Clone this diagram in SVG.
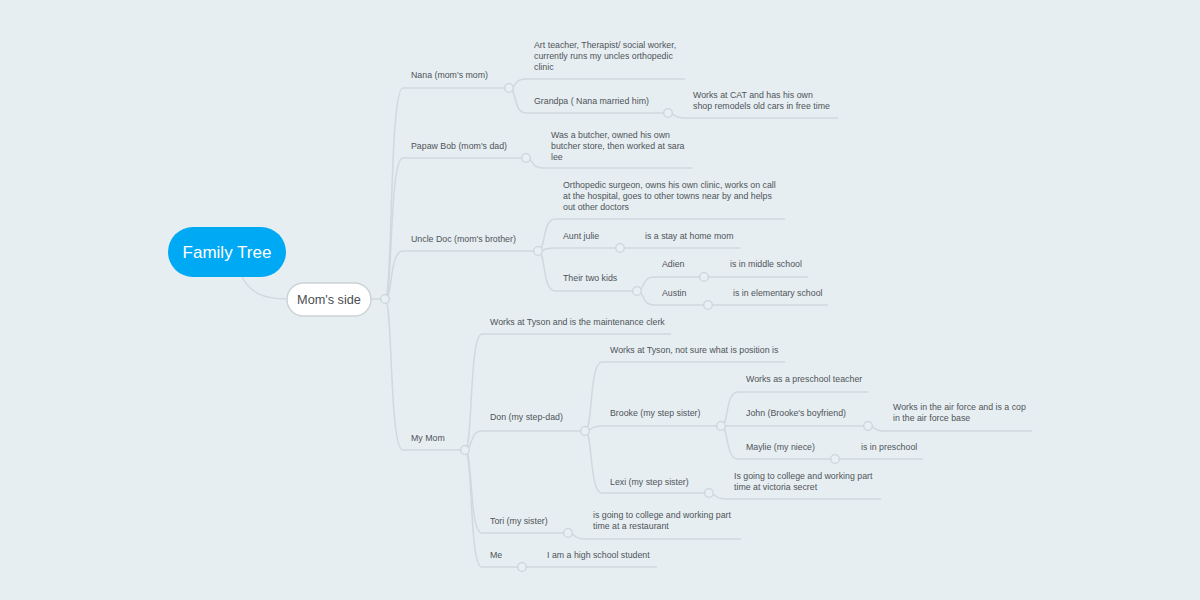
<svg xmlns="http://www.w3.org/2000/svg" width="1200" height="600" viewBox="0 0 1200 600">
<style>
.bg{fill:#e6eef2}
.ln{fill:none;stroke:#d2d9de;stroke-width:1.5}
.kn{fill:#e9f0f3;stroke:#cdd5da;stroke-width:1.3}
.t{font-family:"Liberation Sans",Arial,sans-serif;font-size:8.8px;fill:#4f5458}
.root{fill:#00a9f4}
.rt{font-family:"Liberation Sans",Arial,sans-serif;font-size:17px;fill:#ffffff}
.ms{fill:#ffffff;stroke:#ccd3d8;stroke-width:1.5}
.mt{font-family:"Liberation Sans",Arial,sans-serif;font-size:12.7px;fill:#4a4e52}
</style>
<rect class="bg" x="0" y="0" width="1200" height="600"/>
<g id="connectors">
<path class="ln" d="M242,277 C250,292 262,299 287,299"/>
<path class="ln" d="M371,299 L385,299"/>
<path class="ln" d="M385,299 C393,299 389,88 403,88 L509,88"/>
<path class="ln" d="M385,299 C393,299 389,158 403,158 L526,158"/>
<path class="ln" d="M385,299 C393,299 389,251 403,251 L538,251"/>
<path class="ln" d="M385,299 C393,299 389,450 403,450 L465,450"/>
<path class="ln" d="M509,88 C517,88 513,79 526,79 L685,79"/>
<path class="ln" d="M509,88 C517,88 513,113 526,113 L668,113"/>
<path class="ln" d="M668,113 C676,113 672,118 685,118 L838,118"/>
<path class="ln" d="M526,158 C534,158 530,168 543,168 L692,168"/>
<path class="ln" d="M538,251 C546,251 542,219 555,219 L785,219"/>
<path class="ln" d="M538,251 C546,251 542,248 555,248 L620,248"/>
<path class="ln" d="M620,248 L740,248"/>
<path class="ln" d="M538,251 C546,251 542,291 555,291 L637,291"/>
<path class="ln" d="M637,291 C645,291 641,277 654,277 L704,277"/>
<path class="ln" d="M637,291 C645,291 641,305 654,305 L708,305"/>
<path class="ln" d="M704,277 L808,277"/>
<path class="ln" d="M708,305 L828,305"/>
<path class="ln" d="M465,450 C473,450 469,334 482,334 L671,334"/>
<path class="ln" d="M465,450 C473,450 469,431 482,431 L585,431"/>
<path class="ln" d="M465,450 C473,450 469,533 482,533 L568,533"/>
<path class="ln" d="M465,450 C473,450 469,567 482,567 L522,567"/>
<path class="ln" d="M585,431 C593,431 589,362 602,362 L785,362"/>
<path class="ln" d="M585,431 C593,431 589,426 602,426 L721,426"/>
<path class="ln" d="M585,431 C593,431 589,493 602,493 L709,493"/>
<path class="ln" d="M721,426 C729,426 725,392 738,392 L868,392"/>
<path class="ln" d="M721,426 L868,426"/>
<path class="ln" d="M721,426 C729,426 725,459 738,459 L835,459"/>
<path class="ln" d="M868,426 C876,426 872,431 885,431 L1032,431"/>
<path class="ln" d="M835,459 L923,459"/>
<path class="ln" d="M709,493 C717,493 713,499 726,499 L881,499"/>
<path class="ln" d="M568,533 C576,533 572,539 585,539 L741,539"/>
<path class="ln" d="M522,567 L657,567"/>
</g>
<g id="knobs">
<circle class="kn" cx="385" cy="299" r="4.3"/>
<circle class="kn" cx="509" cy="88" r="4.3"/>
<circle class="kn" cx="668" cy="113" r="4.3"/>
<circle class="kn" cx="526" cy="158" r="4.3"/>
<circle class="kn" cx="538" cy="251" r="4.3"/>
<circle class="kn" cx="620" cy="248" r="4.3"/>
<circle class="kn" cx="637" cy="291" r="4.3"/>
<circle class="kn" cx="704" cy="277" r="4.3"/>
<circle class="kn" cx="708" cy="305" r="4.3"/>
<circle class="kn" cx="465" cy="450" r="4.3"/>
<circle class="kn" cx="585" cy="431" r="4.3"/>
<circle class="kn" cx="721" cy="426" r="4.3"/>
<circle class="kn" cx="868" cy="426" r="4.3"/>
<circle class="kn" cx="835" cy="459" r="4.3"/>
<circle class="kn" cx="709" cy="493" r="4.3"/>
<circle class="kn" cx="568" cy="533" r="4.3"/>
<circle class="kn" cx="522" cy="567" r="4.3"/>
</g>
<g id="root"><rect class="root" x="168" y="227" width="118" height="50" rx="25"/><text class="rt" x="227" y="258" text-anchor="middle">Family Tree</text></g>
<g id="moms-side"><rect class="ms" x="287" y="283" width="84" height="33" rx="16.5"/><text class="mt" x="329" y="304" text-anchor="middle">Mom's side</text></g>
<g id="nana"><text class="t" x="411" y="78">Nana (mom's mom)</text></g>
<g id="nana-job"><text class="t" x="534" y="48">Art teacher, Therapist/ social worker,</text><text class="t" x="534" y="59">currently runs my uncles orthopedic</text><text class="t" x="534" y="70">clinic</text></g>
<g id="grandpa"><text class="t" x="534" y="104">Grandpa ( Nana married him)</text></g>
<g id="grandpa-job"><text class="t" x="693" y="98">Works at CAT and has his own</text><text class="t" x="693" y="109">shop remodels old cars in free time</text></g>
<g id="papaw"><text class="t" x="411" y="149">Papaw Bob (mom's dad)</text></g>
<g id="papaw-job"><text class="t" x="551" y="138">Was a butcher, owned his own</text><text class="t" x="551" y="149">butcher store, then worked at sara</text><text class="t" x="551" y="160">lee</text></g>
<g id="uncle-doc"><text class="t" x="411" y="242">Uncle Doc (mom's brother)</text></g>
<g id="uncle-job"><text class="t" x="563" y="188">Orthopedic surgeon, owns his own clinic, works on call</text><text class="t" x="563" y="199">at the hospital, goes to other towns near by and helps</text><text class="t" x="563" y="210">out other doctors</text></g>
<g id="aunt-julie"><text class="t" x="563" y="239">Aunt julie</text></g>
<g id="aunt-job"><text class="t" x="645" y="239">is a stay at home mom</text></g>
<g id="two-kids"><text class="t" x="563" y="281">Their two kids</text></g>
<g id="adien"><text class="t" x="662" y="267">Adien</text></g>
<g id="adien-info"><text class="t" x="730" y="267">is in middle school</text></g>
<g id="austin"><text class="t" x="662" y="296">Austin</text></g>
<g id="austin-info"><text class="t" x="733" y="296">is in elementary school</text></g>
<g id="my-mom"><text class="t" x="411" y="441">My Mom</text></g>
<g id="mom-job"><text class="t" x="490" y="325">Works at Tyson and is the maintenance clerk</text></g>
<g id="don"><text class="t" x="490" y="420">Don (my step-dad)</text></g>
<g id="don-job"><text class="t" x="610" y="353">Works at Tyson, not sure what is position is</text></g>
<g id="brooke"><text class="t" x="610" y="416">Brooke (my step sister)</text></g>
<g id="brooke-job"><text class="t" x="746" y="382">Works as a preschool teacher</text></g>
<g id="john"><text class="t" x="746" y="416">John (Brooke's boyfriend)</text></g>
<g id="john-job"><text class="t" x="893" y="410">Works in the air force and is a cop</text><text class="t" x="893" y="421">in the air force base</text></g>
<g id="maylie"><text class="t" x="746" y="450">Maylie (my niece)</text></g>
<g id="maylie-info"><text class="t" x="861" y="450">is in preschool</text></g>
<g id="lexi"><text class="t" x="610" y="485">Lexi (my step sister)</text></g>
<g id="lexi-info"><text class="t" x="734" y="479">Is going to college and working part</text><text class="t" x="734" y="490">time at victoria secret</text></g>
<g id="tori"><text class="t" x="490" y="524">Tori (my sister)</text></g>
<g id="tori-info"><text class="t" x="593" y="518">is going to college and working part</text><text class="t" x="593" y="529">time at a restaurant</text></g>
<g id="me"><text class="t" x="490" y="558">Me</text></g>
<g id="me-info"><text class="t" x="547" y="558">I am a high school student</text></g>
</svg>
